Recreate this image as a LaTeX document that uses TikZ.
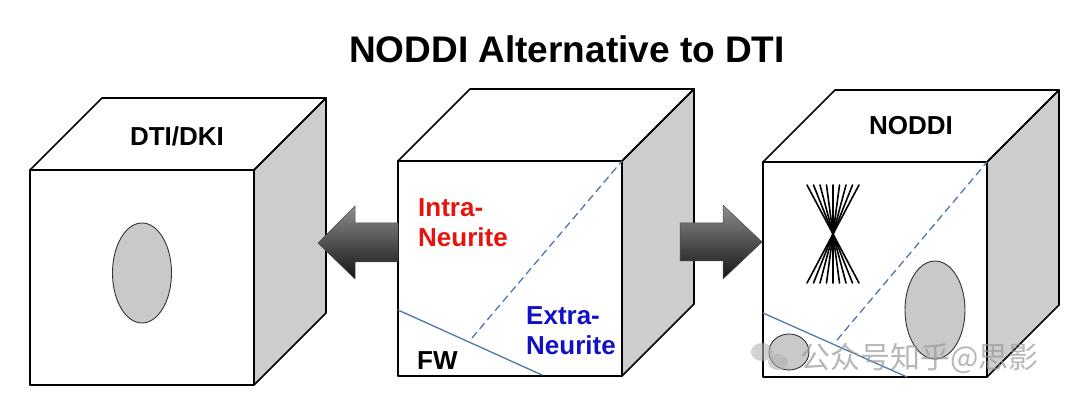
\documentclass[tikz,border=0pt]{standalone}
\usepackage{fontspec}
\setmainfont{Liberation Sans}
\newfontfamily\cjkfont{Noto Sans CJK SC}
\usetikzlibrary{calc}
\definecolor{sidegrey}{HTML}{CDCDCD}
\definecolor{blobgrey}{HTML}{C9C9C9}
\definecolor{boundaryblue}{HTML}{4F78A8}
\definecolor{intrared}{HTML}{E5140E}
\definecolor{extrablue}{HTML}{1212C4}

\begin{document}
\begin{tikzpicture}[
  x=1pt,
  y=-1pt,
  line join=round,
  line cap=round,
  voxeledge/.style={draw=black,line width=1.7pt},
  topface/.style={fill=white},
  sideface/.style={fill=sidegrey},
  blob/.style={fill=blobgrey,draw=black!80,line width=0.9pt},
  boundary/.style={draw=boundaryblue,line width=1.3pt},
  hiddenboundary/.style={draw=boundaryblue,line width=1.3pt,dash pattern=on 7pt off 5pt},
  fibre/.style={draw=black,line width=1.6pt},
  bigarrow/.style={top color=black!45,bottom color=black!92,draw=black!70,line width=0.5pt},
  voxellabel/.style={font=\bfseries\fontsize{26}{30}\selectfont,inner sep=0pt},
  compartment/.style={font=\bfseries\fontsize{26}{30}\selectfont,inner sep=0pt,anchor=north west,align=left}
]
  \useasboundingbox (0,0) rectangle (1080,406);

  % One voxel cube: front face 224 x 215, receding edges (72,-72).
  \newcommand{\drawvoxel}[1]{%
    \coordinate (#1-ftl) at (0,0);
    \coordinate (#1-ftr) at (224,0);
    \coordinate (#1-fbr) at (224,215);
    \coordinate (#1-fbl) at (0,215);
    \coordinate (#1-btl) at (72,-72);
    \coordinate (#1-btr) at (296,-72);
    \coordinate (#1-bbr) at (296,143);
    \path[topface] (#1-ftl) -- (#1-btl) -- (#1-btr) -- (#1-ftr) -- cycle;
    \path[sideface] (#1-ftr) -- (#1-btr) -- (#1-bbr) -- (#1-fbr) -- cycle;
    \fill[white] (#1-ftl) rectangle (#1-fbr);
    \draw[voxeledge] (#1-ftl) -- (#1-btl) -- (#1-btr) -- (#1-ftr) -- cycle;
    \draw[voxeledge] (#1-ftr) -- (#1-btr) -- (#1-bbr) -- (#1-fbr) -- cycle;
    \draw[voxeledge] (#1-ftl) rectangle (#1-fbr);
  }

  \node[font=\bfseries\fontsize{37}{42}\selectfont,inner sep=0pt] (title) at (567,49) {NODDI Alternative to DTI};

  % DTI/DKI voxel.
  \begin{scope}[shift={(30,170)}]
    \drawvoxel{dti}
  \end{scope}
  \node[voxellabel] (dtilabel) at (177,136) {DTI/DKI};
  \draw[blob] (142,273) ellipse[x radius=29.5,y radius=50];

  % Compartment voxel in the middle.
  \begin{scope}[shift={(398,161)}]
    \drawvoxel{mid}
  \end{scope}
  \coordinate (midfw) at (398,310);
  \coordinate (midfwend) at (542,375);
  \coordinate (midex) at (472,338);
  \draw[boundary] (midfw) -- (midfwend);
  \draw[hiddenboundary] (midex) -- (mid-ftr);
  \node[compartment,text=intrared] (intra) at (418,198) {Intra-\\Neurite};
  \node[compartment,text=extrablue] (extra) at (526,306) {Extra-\\Neurite};
  \node[compartment] (fw) at (417,351) {FW};

  % NODDI voxel.
  \begin{scope}[shift={(763,162)}]
    \drawvoxel{nod}
  \end{scope}
  \node[voxellabel] (nodlabel) at (911,126) {NODDI};
  \coordinate (nodfw) at (763,313);
  \coordinate (nodfwend) at (907,377);
  \coordinate (nodex) at (837,340);
  \draw[boundary] (nodfw) -- (nodfwend);
  \draw[hiddenboundary] (nodex) -- (nod-ftr);
  \draw[blob] (789,352) ellipse[x radius=20,y radius=18];
  \draw[blob] (935,310) ellipse[x radius=30,y radius=49];
  \coordinate (fan) at (833,234);
  \foreach \t in {-26,-19.5,-13,-6.5,0,6.5,13,19.5,26} {
    \draw[fibre] ($(fan)+(\t,-49)$) -- ($(fan)+(-\t,49)$);
  }

  % Block arrows between the voxels.
  \shade[bigarrow] (398,223) -- (355,223) -- (355,206) -- (318,243)
    -- (355,279) -- (355,262) -- (398,262) -- cycle;
  \shade[bigarrow] (680,223) -- (723,223) -- (723,205) -- (762,242)
    -- (723,279) -- (723,261) -- (680,261) -- cycle;

  % Watermark.
  \fill[black!30,opacity=0.6] (762,352) ellipse[x radius=11,y radius=9];
  \fill[black!30,opacity=0.6] (778,362) ellipse[x radius=10,y radius=8];
  \node[font=\cjkfont\fontsize{30}{32}\selectfont,text=black!40,opacity=0.7,anchor=west,inner sep=0pt] (mark) at (800,358) {公众号知乎@思影};
\end{tikzpicture}
\end{document}
